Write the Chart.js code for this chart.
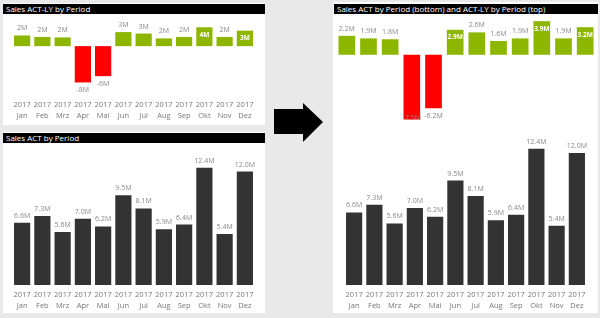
<!DOCTYPE html>
<html>
<head>
<meta charset="utf-8">
<script src="https://cdn.jsdelivr.net/npm/chart.js@4"></script>
<style>
  html, body { margin: 0; padding: 0; }
  body { width: 600px; height: 318px; background: #e9e9e9; position: relative; overflow: hidden; font-family: "Open Sans", sans-serif; }
  .panel { position: absolute; background: #fff; }
  .title { position: absolute; background: #000; color: #fff; font-size: 8px; line-height: 10px; padding-left: 3px; white-space: nowrap; box-sizing: border-box; }
  canvas { position: absolute; }
  svg { position: absolute; left: 0; top: 0; }
</style>
</head>
<body>
<div class="panel" style="left:3px;top:3px;width:262px;height:122px"></div>
<div class="panel" style="left:3px;top:132px;width:262px;height:181px"></div>
<div class="panel" style="left:333px;top:2px;width:265px;height:311px"></div>

<div class="title" style="left:3px;top:4px;width:262px;height:10px">Sales ACT-LY by Period</div>
<div class="title" style="left:3px;top:133px;width:262px;height:10px">Sales ACT by Period</div>
<div class="title" style="left:334px;top:4px;width:264px;height:10px">Sales ACT by Period (bottom) and ACT-LY by Period (top)</div>

<canvas id="leftTop" width="262" height="110" style="left:3px;top:20px"></canvas>
<canvas id="leftBottom" width="262" height="174" style="left:3px;top:144px"></canvas>
<canvas id="rightTop" width="265" height="112" style="left:333px;top:14px"></canvas>
<canvas id="rightBottom" width="265" height="192" style="left:333px;top:126px"></canvas>

<svg width="600" height="318">
  <polygon points="274,109 303,109 303,103 323,122 303,142 303,134 274,134" fill="#000"/>
</svg>

<script>
// data
const year = '2017';
const periods = ['Jan', 'Feb', 'Mrz', 'Apr', 'Mai', 'Jun', 'Jul', 'Aug', 'Sep', 'Okt', 'Nov', 'Dez'];
const salesAct = [6.6, 7.3, 5.6, 7.0, 6.2, 9.5, 8.1, 5.9, 6.4, 12.4, 5.4, 12.0];
const salesActLy = [2.2, 1.9, 1.8, -7.5, -6.2, 2.9, 2.6, 1.6, 1.9, 3.9, 1.9, 3.2];

const GREEN = '#8db600';
const RED = '#ff0000';
const DARK = '#333333';

Chart.defaults.font.family = '"Open Sans", sans-serif';
Chart.defaults.font.size = 7;
Chart.defaults.color = '#777';

// draws value labels above / inside / below each bar
const valueLabels = {
    id: 'valueLabels',
    afterDatasetsDraw(chart, args, opts) {
        const ctx = chart.ctx;
        const meta = chart.getDatasetMeta(0);
        const data = chart.data.datasets[0].data;
        ctx.save();
        ctx.textAlign = 'center';
        ctx.textBaseline = 'middle';
        meta.data.forEach((bar, i) => {
            const v = data[i];
            const text = v.toFixed(opts.decimals) + 'M';
            let y;
            if (opts.inside.includes(i)) {
                ctx.fillStyle = '#fff';
                ctx.font = 'bold 6.5px "Open Sans", sans-serif';
                y = bar.y + 7.5;
            } else {
                ctx.fillStyle = '#888';
                ctx.font = '7px "Open Sans", sans-serif';
                if (v >= 0) {
                    y = bar.y - 7;
                } else {
                    // keep the label inside the plot area
                    y = Math.min(bar.y + 8, chart.chartArea.bottom - 4);
                }
            }
            ctx.fillText(text, bar.x, y);
        });
        ctx.restore();
    }
};

function makeBars(id, values, colors, cfg) {
    const ctx = document.getElementById(id).getContext('2d');
    return new Chart(ctx, {
        type: 'bar',
        data: {
            labels: periods.map(p => [year, p]),
            datasets: [{
                data: values,
                backgroundColor: colors,
                borderWidth: 0,
                barPercentage: cfg.barPct,
                categoryPercentage: 1
            }]
        },
        options: {
            responsive: false,
            animation: false,
            events: [],
            layout: { padding: cfg.padding },
            plugins: {
                legend: { display: false },
                tooltip: { enabled: false },
                valueLabels: { decimals: cfg.decimals, inside: cfg.inside }
            },
            scales: {
                x: {
                    display: cfg.showX,
                    grid: { display: false, drawTicks: false },
                    border: { display: false },
                    ticks: {
                        color: '#777',
                        padding: cfg.tickPad || 4,
                        maxRotation: 0,
                        autoSkip: false,
                        font: { size: 7.5, lineHeight: 1.4 }
                    }
                },
                y: {
                    display: false,
                    min: cfg.min,
                    max: cfg.max
                }
            }
        },
        plugins: [valueLabels]
    });
}

const lyColors = salesActLy.map(v => v < 0 ? RED : GREEN);

makeBars('leftTop', salesActLy, lyColors, {
    padding: { left: 9, right: 10, top: 0, bottom: 5 },
    barPct: 0.8, decimals: 0, inside: [9, 11], showX: true,
    min: -10.3, max: 5.4, tickPad: 4
});

makeBars('leftBottom', salesAct, DARK, {
    padding: { left: 9, right: 10, top: 4, bottom: 2 },
    barPct: 0.8, decimals: 1, inside: [], showX: true,
    min: 0, max: 14.5, tickPad: 5
});

makeBars('rightTop', salesActLy, lyColors, {
    padding: { left: 3, right: 2, top: 2, bottom: 4 },
    barPct: 0.77, decimals: 1, inside: [5, 9, 11], showX: false,
    min: -7.8, max: 4.5
});

makeBars('rightBottom', salesAct, DARK, {
    padding: { left: 11, right: 11, top: 4, bottom: 2 },
    barPct: 0.8, decimals: 1, inside: [], showX: true,
    min: 0, max: 14.1, tickPad: 5
});
</script>
</body>
</html>
